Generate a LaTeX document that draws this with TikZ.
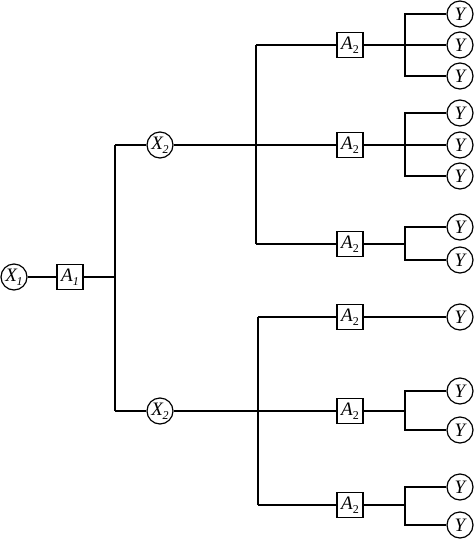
\documentclass[tikz,border=0pt]{standalone}
\usepackage{fontspec}
\setmainfont{Liberation Serif}
\begin{document}
\begin{tikzpicture}[x=1pt,y=-1pt,
  cnode/.style={circle,draw,line width=1.2pt,minimum size=26pt,inner sep=0pt,font=\fontsize{19}{19}\selectfont\itshape},
  bnode/.style={rectangle,draw,line width=1.2pt,minimum width=26pt,minimum height=25pt,inner sep=0pt,font=\fontsize{19}{19}\selectfont\itshape},
  wire/.style={line width=1.2pt}]
\useasboundingbox (0,0) rectangle (474,539);
\newcommand{\sbi}[1]{\raisebox{-0.45ex}{\fontsize{12}{12}\selectfont\itshape #1}}
\newcommand{\sbu}[1]{\raisebox{-0.45ex}{\fontsize{12}{12}\selectfont\upshape #1}}
\node[cnode] (x1) at (14,277) {X\kern-0.5pt\sbi{1}};
\node[bnode] (a1) at (70,277) {A\sbi{1}};
\coordinate (j1) at (115,277);
\coordinate (j1t) at (115,145);
\coordinate (j1b) at (115,411);
\node[cnode] (x2a) at (160,145) {X\kern-0.5pt\sbi{2}};
\node[cnode] (x2b) at (160,411) {X\kern-0.5pt\sbi{2}};
% upper branch
\coordinate (ua) at (256,45);
\coordinate (ub) at (256,244);
\node[bnode] (b1) at (350,45) {A\sbu{2}};
\node[bnode] (b2) at (350,145) {A\sbu{2}};
\node[bnode] (b3) at (350,244) {A\sbu{2}};
% lower branch
\coordinate (la) at (258,317);
\coordinate (lb) at (258,505);
\node[bnode] (b4) at (350,317) {A\sbu{2}};
\node[bnode] (b5) at (350,411) {A\sbu{2}};
\node[bnode] (b6) at (350,505) {A\sbu{2}};
% Y nodes
\node[cnode] (y1) at (460,14) {Y};
\node[cnode] (y2) at (460,45) {Y};
\node[cnode] (y3) at (460,76) {Y};
\node[cnode] (y4) at (460,113) {Y};
\node[cnode] (y5) at (460,145) {Y};
\node[cnode] (y6) at (460,176) {Y};
\node[cnode] (y7) at (460,227) {Y};
\node[cnode] (y8) at (460,260) {Y};
\node[cnode] (y9) at (460,317) {Y};
\node[cnode] (y10) at (460,391) {Y};
\node[cnode] (y11) at (460,430) {Y};
\node[cnode] (y12) at (460,487) {Y};
\node[cnode] (y13) at (460,525) {Y};
% wires
\draw[wire] (x1) -- (a1);
\draw[wire] (a1) -- (j1);
\draw[wire] (j1t) -- (j1b);
\draw[wire] (j1t) -- (x2a);
\draw[wire] (j1b) -- (x2b);
\draw[wire] (x2a) -- (b2);
\draw[wire] (ua) -- (ub);
\draw[wire] (ua) -- (b1);
\draw[wire] (ub) -- (b3);
\draw[wire] (x2b) -- (b5);
\draw[wire] (la) -- (lb);
\draw[wire] (la) -- (b4);
\draw[wire] (lb) -- (b6);
\draw[wire] (b4) -- (y9);
% fan-outs
\foreach \b/\t/\m/\bo in {b1/y1/y2/y3, b2/y4/y5/y6}{
  \draw[wire] (\b.east) -- (\m);
  \draw[wire] (\t) -- (\t -| 405,0) -- (\bo -| 405,0) -- (\bo);
}
\foreach \b/\t/\bo in {b3/y7/y8, b5/y10/y11, b6/y12/y13}{
  \draw[wire] (\b.east) -- (\b.east -| 405,0);
  \draw[wire] (\t) -- (\t -| 405,0) -- (\bo -| 405,0) -- (\bo);
}
\end{tikzpicture}
\end{document}
